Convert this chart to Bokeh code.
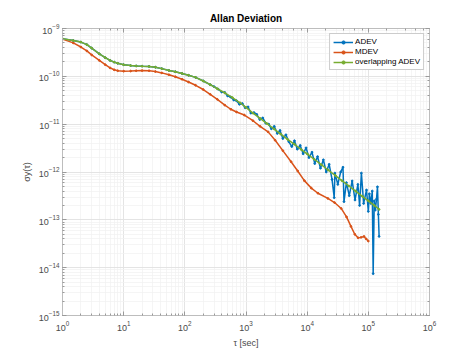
from bokeh.plotting import figure
from bokeh.models import Range1d, LogAxis, Legend, LegendItem, LogTicker, CustomJSTickFormatter
from bokeh.embed import file_html
from bokeh.resources import INLINE

# ---------------- data ----------------
tau_adev = [1, 1.5, 2, 2.5, 3, 4, 5, 6, 7, 8, 10, 13, 16, 20, 26, 33, 42, 55, 70, 90,
            115, 150, 200, 260, 300, 350, 400, 450, 500, 560, 630, 700, 780, 870, 970,
            1080, 1200, 1350, 1500, 1680, 1880, 2100, 2350, 2600, 2900, 3250, 3600,
            4000, 4500, 5000, 5600, 6200, 6900, 7700, 8600, 9600, 10700, 12000, 13300,
            14800, 16500, 18400, 20500, 22900, 25500, 27700, 28400, 31700, 35300,
            38500, 40000, 43800, 48800, 54400, 60600, 67500, 72000, 77000, 83800,
            93400, 100000, 104000, 110000, 116000, 120000, 125000, 130000, 136000,
            141000, 146000, 150000]
adev = [6.1e-10, 5.6e-10, 5.2e-10, 4.6e-10, 3.9e-10, 2.95e-10, 2.45e-10, 2.15e-10,
        1.98e-10, 1.87e-10, 1.75e-10, 1.68e-10, 1.65e-10, 1.63e-10, 1.61e-10, 1.55e-10,
        1.45e-10, 1.33e-10, 1.25e-10, 1.15e-10, 1.05e-10, 9.5e-11, 8.0e-11, 6.7e-11,
        6.1e-11, 5.4e-11, 4.7e-11, 4.6e-11, 3.9e-11, 3.7e-11, 3.2e-11, 3.1e-11, 2.6e-11,
        2.7e-11, 2.2e-11, 2.3e-11, 1.7e-11, 1.75e-11, 1.6e-11, 1.25e-11, 1.35e-11,
        1.05e-11, 1.0e-11, 8.0e-12, 9.0e-12, 6.4e-12, 7.4e-12, 5.0e-12, 6.0e-12,
        4.3e-12, 3.4e-12, 4.5e-12, 3.0e-12, 3.6e-12, 2.4e-12, 3.2e-12, 2.0e-12,
        2.6e-12, 1.5e-12, 2.1e-12, 1.2e-12, 1.8e-12, 1.0e-12, 1.45e-12, 7.0e-13,
        2.9e-13, 9.5e-13, 5.5e-13, 1.0e-12, 1.26e-12, 2.4e-13, 6.0e-13, 3.2e-13,
        6.5e-13, 2.6e-13, 5.5e-13, 2.0e-13, 9.5e-13, 2.2e-13, 4.2e-13, 1.5e-13,
        3.5e-13, 2.2e-13, 4.0e-13, 7.5e-15, 2.5e-13, 1.6e-13, 2.7e-13, 4.9e-13,
        1.3e-13, 4.5e-14]

tau_mdev = [1, 1.5, 2, 2.5, 3, 4, 5, 6, 7, 8, 10, 13, 16, 20, 26, 33, 42, 55, 70, 90,
            115, 150, 200, 260, 340, 450, 565, 700, 940, 1300, 1700, 2300, 3000, 4000,
            5460, 7000, 9000, 11700, 15000, 21800, 28000, 36000, 44000, 52000, 60000,
            68000, 76000, 85000, 92000, 100000]
mdev = [6.0e-10, 5.0e-10, 4.1e-10, 3.4e-10, 2.8e-10, 2.15e-10, 1.75e-10, 1.5e-10,
        1.37e-10, 1.31e-10, 1.28e-10, 1.29e-10, 1.31e-10, 1.32e-10, 1.31e-10, 1.26e-10,
        1.18e-10, 1.08e-10, 9.8e-11, 8.7e-11, 7.6e-11, 6.5e-11, 5.3e-11, 4.2e-11,
        3.3e-11, 2.5e-11, 2.05e-11, 1.8e-11, 1.55e-11, 1.18e-11, 9.0e-12, 6.9e-12,
        4.6e-12, 2.8e-12, 1.64e-12, 1.05e-12, 6.6e-13, 4.6e-13, 3.6e-13, 2.8e-13,
        2.3e-13, 1.73e-13, 1.15e-13, 7.3e-14, 5.0e-14, 4.2e-14, 4.3e-14, 4.5e-14,
        4.0e-14, 3.6e-14]

tau_oadev = [1, 1.5, 2, 2.5, 3, 4, 5, 6, 7, 8, 10, 13, 16, 20, 26, 33, 42, 55, 70, 90,
             115, 150, 200, 260, 340, 450, 600, 800, 1000, 1300, 1700, 2200, 2900, 3700,
             4800, 6200, 8000, 10000, 13000, 17000, 22000, 29000, 37000, 48000, 62000,
             80000, 100000, 125000, 150000]
oadev = [6.1e-10, 5.6e-10, 5.2e-10, 4.6e-10, 3.9e-10, 2.95e-10, 2.45e-10, 2.15e-10,
         1.98e-10, 1.87e-10, 1.75e-10, 1.68e-10, 1.65e-10, 1.63e-10, 1.61e-10, 1.55e-10,
         1.45e-10, 1.33e-10, 1.25e-10, 1.15e-10, 1.05e-10, 9.5e-11, 8.0e-11, 6.7e-11,
         5.5e-11, 4.5e-11, 3.6e-11, 2.8e-11, 2.25e-11, 1.7e-11, 1.32e-11, 1.03e-11,
         7.9e-12, 6.2e-12, 4.8e-12, 3.8e-12, 2.95e-12, 2.4e-12, 1.85e-12, 1.42e-12,
         1.1e-12, 8.4e-13, 6.6e-13, 5.1e-13, 4.0e-13, 3.1e-13, 2.5e-13, 2.0e-13, 1.65e-13]

series_names = ["ADEV", "MDEV", "overlapping ADEV"]
colors = ["#0072BD", "#D95319", "#77AC30"]

FONT = "Liberation Sans"

p = figure(output_backend="svg", toolbar_location=None,
           x_axis_type="log", y_axis_type="log",
           x_range=Range1d(1, 1e6), y_range=Range1d(1e-15, 1e-9),
           min_border_left=62, min_border_right=45, min_border_top=28, min_border_bottom=40,
           frame_width=367, frame_height=287)
p.background_fill_color = "white"
p.border_fill_color = "white"
p.outline_line_color = "#bdbdbd"

p.title.text = "Allan Deviation"
p.title.align = "center"
p.title.text_font = FONT
p.title.text_font_size = "10px"
p.title.text_font_style = "bold"
p.title.text_color = "#000000"

renderers = []
for tx, ty, c in [(tau_adev, adev, colors[0]), (tau_mdev, mdev, colors[1]), (tau_oadev, oadev, colors[2])]:
    l = p.line(tx, ty, line_color=c, line_width=1.5)
    s = p.scatter(tx, ty, size=1.8, color=c)
    renderers.append([l, s])


def style_axis(ax):
    ax.axis_line_color = "#bdbdbd"
    ax.major_tick_line_color = "#9a9a9a"
    ax.minor_tick_line_color = "#9a9a9a"
    ax.major_tick_in = 4
    ax.major_tick_out = 0
    ax.minor_tick_in = 2
    ax.minor_tick_out = 0
    ax.major_label_text_font = FONT
    ax.major_label_text_font_size = "9px"
    ax.major_label_text_color = "#4a4a4a"


for ax in p.xaxis + p.yaxis:
    style_axis(ax)
p.xaxis.axis_label = "τ [sec]"
p.yaxis.axis_label = "σy(τ)"
for ax in p.xaxis + p.yaxis:
    ax.axis_label_text_font = FONT
    ax.axis_label_text_font_size = "9px"
    ax.axis_label_text_font_style = "normal"
    ax.axis_label_text_color = "#4a4a4a"
    ax.axis_label_standoff = 4
p.xaxis.major_label_standoff = 5
p.yaxis.major_label_standoff = 3

top_ax = LogAxis(ticker=LogTicker(), formatter=CustomJSTickFormatter(code="return ''"))
right_ax = LogAxis(ticker=LogTicker(), formatter=CustomJSTickFormatter(code="return ''"))
style_axis(top_ax)
style_axis(right_ax)
top_ax.major_label_standoff = 0
right_ax.major_label_standoff = 0
p.add_layout(top_ax, "above")
p.add_layout(right_ax, "right")

for g in [p.xgrid[0], p.ygrid[0]]:
    g.grid_line_color = "#e0e0e0"
    g.grid_line_width = 0.8
    g.minor_grid_line_color = "#f0f0f0"
    g.minor_grid_line_width = 0.7

items = [LegendItem(label=n, renderers=r) for n, r in zip(series_names, renderers)]
leg = Legend(items=items, location="top_right")
leg.label_text_font = FONT
leg.label_text_font_size = "8px"
leg.label_text_color = "#000000"
leg.label_height = 8
leg.glyph_height = 8
leg.glyph_width = 20
leg.spacing = 1
leg.padding = 3
leg.margin = 5
leg.label_standoff = 2
leg.border_line_color = "#9a9a9a"
leg.border_line_width = 0.8
leg.background_fill_alpha = 1
p.add_layout(leg)

open("out.html", "w").write(file_html(p, INLINE))
